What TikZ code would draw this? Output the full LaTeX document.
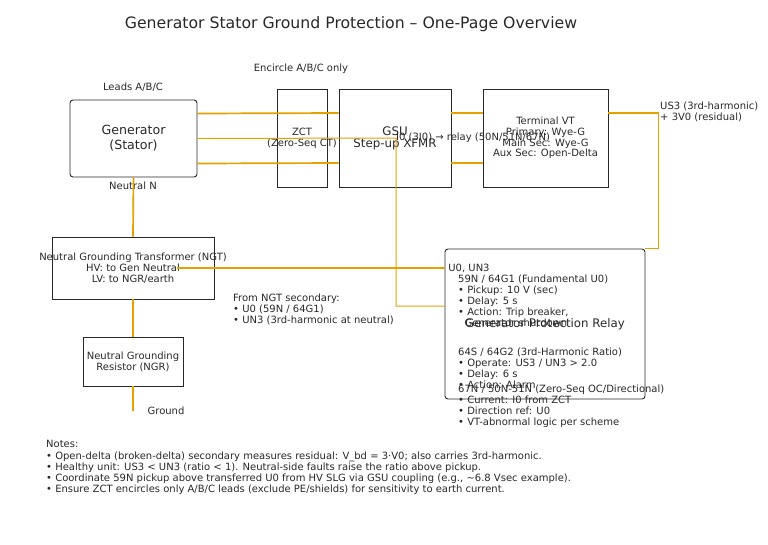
\documentclass[tikz,border=0pt]{standalone}
\usepackage{fontspec}
\setmainfont{DejaVu Sans}
\definecolor{wire}{RGB}{230,160,0}
\definecolor{ink}{RGB}{40,40,40}
\newcommand{\smallfont}{\fontsize{10}{11.1}\selectfont}

\begin{document}
\begin{tikzpicture}[x=1pt,y=-1pt,every node/.style={font=\smallfont,text=ink,inner sep=0pt}]
\tikzstyle{block} = [draw=ink,line width=0.9pt];
\tikzstyle{rblock} = [block,rounded corners=3pt]
\tikzstyle{lead} = [draw=wire,line width=1.7pt]
\tikzstyle{tap} = [draw=wire,line width=1pt]
\tikzstyle{note} = [anchor=west,align=left]
\useasboundingbox (0,0) rectangle (768,544);

\node (t0) at (351,24) {\fontsize{15.7}{18}\selectfont Generator Stator Ground Protection – One-Page Overview};

\node [rblock,minimum width=127pt,minimum height=77pt,label={[align=center,font=\fontsize{12.6}{15}\selectfont]center:Generator\\(Stator)}] (v1) at (133.5,138.5) {};
\node [block,minimum width=50pt,minimum height=98pt,label={[align=center]center:ZCT\\(Zero-Seq CT)}] (v2) at (302,138) {};
\node [block,minimum width=112pt,minimum height=98pt,label={[align=center,font=\fontsize{11.8}{12}\selectfont]center:GSU\\Step-up XFMR}] (v3) at (395,138) {};
\node [block,minimum width=125pt,minimum height=98pt,label={[align=center,font=\fontsize{10}{10.7}\selectfont]center:Terminal VT\\Primary: Wye-G\\Main Sec: Wye-G\\Aux Sec: Open-Delta}] (v4) at (545.5,138) {};
\node [block,minimum width=162pt,minimum height=62pt,label={[align=center]center:Neutral Grounding Transformer (NGT)\\HV: to Gen Neutral\\LV: to NGR/earth}] (v5) at (133,268) {};
\node [block,minimum width=100pt,minimum height=49pt,label={[align=center]center:Neutral Grounding\\Resistor (NGR)}] (v6) at (133,361.5) {};
\node [rblock,minimum width=200pt,minimum height=150pt,label={[font=\fontsize{11.8}{13}\selectfont]center:Generator Protection Relay}] (v7) at (545,324) {};

\node (l1) at (133,87) {Leads A/B/C};
\node (l2) at (301,69) {Encircle A/B/C only};
\node (l3) at (133,186) {Neutral N};
\node (l4) at (166,411) {Ground};
\node [note] (l5) at (660,112) {US3 (3rd-harmonic)\\+ 3V0 (residual)};
\node [note] (l6) at (233,309) {From NGT secondary:\\• U0 (59N / 64G1)\\• UN3 (3rd-harmonic at neutral)};

% relay settings
\node [note] (r1) at (458,301) {59N / 64G1 (Fundamental U0)\\• Pickup: 10 V (sec)\\• Delay: 5 s\\• Action: Trip breaker,\\\ \ Generator shutdown};
\node [note] (r2) at (458,368.5) {64S / 64G2 (3rd-Harmonic Ratio)\\• Operate: US3 / UN3 > 2.0\\• Delay: 6 s\\• Action: Alarm};
\node [note] (r3) at (458,406.5) {67N / 50N-51N (Zero-Seq OC/Directional)\\• Current: I0 from ZCT\\• Direction ref: U0\\• VT-abnormal logic per scheme};

\node [note] (n1) at (46,467.5) {Notes:\\• Open-delta (broken-delta) secondary measures residual: V\_bd = 3·V0; also carries 3rd-harmonic.\\• Healthy unit: US3 < UN3 (ratio < 1). Neutral-side faults raise the ratio above pickup.\\• Coordinate 59N pickup above transferred U0 from HV SLG via GSU coupling (e.g., \textasciitilde6.8 Vsec example).\\• Ensure ZCT encircles only A/B/C leads (exclude PE/shields) for sensitivity to earth current.};

% phase leads
\draw [lead] ([yshift=25pt]v1.east) -- ([yshift=25pt]v3.west);
\draw [lead] ([yshift=-25pt]v1.east) -- ([yshift=-25pt]v3.west);
\draw [lead] ([yshift=25pt]v3.east) -- ([yshift=25pt]v4.west);
\draw [lead] ([yshift=-25pt]v3.east) -- ([yshift=-25pt]v4.west);
\draw [lead] ([yshift=25pt]v4.east) -| ([xshift=13pt]v7.north east) -- (v7.north east);

% residual current from ZCT
\coordinate (c1) at (396,138);
\draw [tap] (v1.east) -- (c1) |- ([yshift=18pt]v7.west);
\node [anchor=west] (l7) at (c1) {I0 (3I0) → relay (50N/51N/67N)};

% neutral path
\coordinate (c2) at (133,411);
\coordinate (c3) at (177,268);
\draw [lead] (v1.south) -- (v5.north);
\draw [lead] (v5.south) -- (v6.north);
\draw [lead] (v6.south) -- (c2);
\draw [lead] (c3) -- ([yshift=56pt]v7.west) node [anchor=west,xshift=3pt] {U0, UN3};
\end{tikzpicture}
\end{document}
